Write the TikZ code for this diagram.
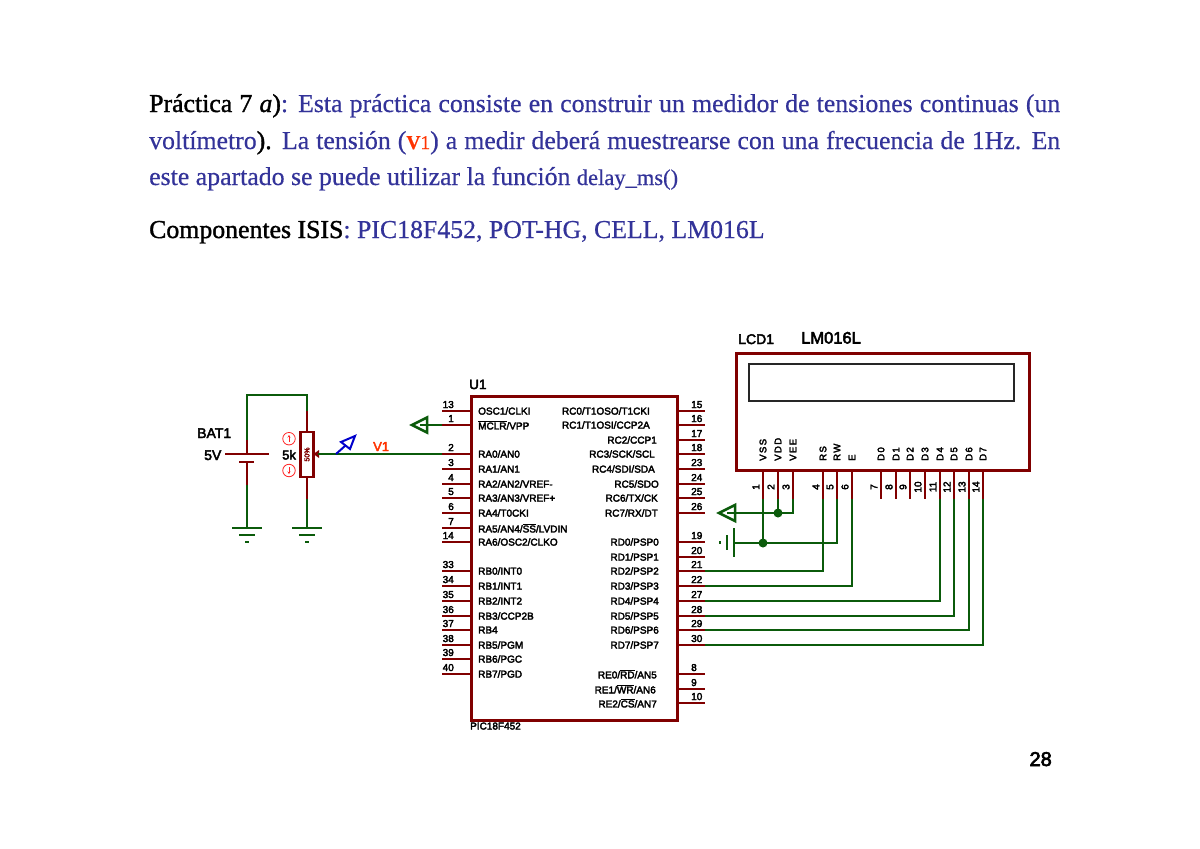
\documentclass[tikz,border=0pt]{standalone}
\usepackage{fontspec}
\usetikzlibrary{arrows.meta}
\setmainfont[FakeBold=0.5]{Liberation Serif}
\newfontfamily\blkf[FakeBold=1.4]{Liberation Serif}
\newfontfamily\blkit[FakeBold=1.4]{Liberation Serif Italic}
\newfontfamily\lblf[FakeBold=3.2]{Liberation Sans}
\newfontfamily\spcf[FakeBold=3.2,LetterSpace=14]{Liberation Sans}
\definecolor{tblue}{HTML}{333399}
\definecolor{tred}{HTML}{FF3300}
\definecolor{pinred}{HTML}{800000}
\definecolor{wiregreen}{HTML}{0B5B0B}
\definecolor{probeblue}{HTML}{0000CC}
\newcommand{\fs}[1]{\fontsize{#1}{#1}\selectfont}
\newcommand{\ob}[1]{\ensuremath{\overline{\hbox{#1}}}}
\newcommand{\bk}[1]{{\color{black}\blkf #1}}
\tikzset{
  titletext/.style={anchor=base west,inner sep=0pt,text=tblue,font=\fs{25.8}},
  pinline/.style={draw=pinred,line width=2.5pt},
  wire/.style={draw=wiregreen,line width=2.5pt},
  pinnum/.style={inner sep=0pt,font=\lblf\fs{10}},
  pinname/.style={inner sep=0pt,font=\lblf\fs{10}},
  lcdname/.style={inner sep=0pt,rotate=90,anchor=west,font=\spcf\fs{9.6}},
  caption/.style={inner sep=0pt,anchor=base west,font=\lblf\fs{14}},
  terminal/.style={draw=wiregreen,line width=2.5pt,line join=miter,fill=white},
  junction/.style={circle,fill=wiregreen,inner sep=0pt,minimum size=9pt},
  indicator/.style={circle,draw=red!85!white,line width=.8pt,inner sep=0pt,minimum size=12.5pt},
}
% left-side pin of U1: number, y, name
\newcommand{\lpin}[3]{%
  \coordinate (LE#1) at (442,#2);
  \coordinate (LI#1) at (470,#2);
  \draw[pinline] (LE#1) -- (LI#1);
  \node[pinnum,anchor=base east] (LN#1) at (454,#2-3) {#1};
  \node[pinname,anchor=west] (LT#1) at (478,#2) {#3};
}
% right-side pin of U1: number, y, name, right edge of the name
\newcommand{\rpin}[4]{%
  \coordinate (RE#1) at (705,#2);
  \coordinate (RI#1) at (676,#2);
  \draw[pinline] (RI#1) -- (RE#1);
  \node[pinnum,anchor=base west] (RN#1) at (691,#2-3) {#1};
  \node[pinname,anchor=east] (RT#1) at (#4,#2) {#3};
}
% LCD pin: number, x, name
\newcommand{\lcdpin}[3]{%
  \coordinate (DT#1) at (#2,469);
  \coordinate (DB#1) at (#2,499);
  \draw[pinline] (DT#1) -- (DB#1);
  \node[pinnum,rotate=90] (DN#1) at (#2-7,487) {#1};
  \node[lcdname] (DL#1) at (#2,461) {#3};
}
\begin{document}
\begin{tikzpicture}[x=1pt,y=-1pt]
\useasboundingbox (0,0) rectangle (1200,849);
% --- text
\node[titletext] (t1) at (149,112) {\hbox to 911pt{\bk{Práctica 7 }{\color{black}\blkit a}\bk{)}: Esta práctica consiste en construir un medidor de tensiones continuas (un}};
\node[titletext] (t2) at (149,149) {\hbox to 911pt{voltímetro\bk{).} La tensión ({\color{tred}\fs{19.5}\textbf{V}1}) a medir deberá muestrearse con una frecuencia de 1Hz. En}};
\node[titletext] (t3) at (149,185) {este apartado se puede utilizar la función {\fs{22.5}delay\_ms()}};
\node[titletext] (t4) at (149,238) {\bk{Componentes ISIS}: PIC18F452, POT-HG, CELL, LM016L};
\node[inner sep=0pt,anchor=base east,font=\lblf\fs{20}] (pg) at (1052,766) {28};

% --- battery
\coordinate (batTL) at (247,395);
\coordinate (batA) at (247,440);
\coordinate (batP) at (247,454);
\coordinate (batN) at (247,462);
\coordinate (batB) at (247,485);
\coordinate (gnd1) at (247,528);
\draw[pinline] (batA) -- (batP);
\draw[pinline] (225,454) -- (269,454);
\draw[pinline] (239,462) -- (254,462);
\draw[pinline] (batN) -- (batB);
\draw[wire] (batB) -- (gnd1);
\node[caption] (bat1) at (197,438) {BAT1};
\node[caption] (bat5) at (204,460) {5V};
% --- potentiometer
\node[draw=pinred,line width=2.5pt,fill=white,minimum width=13pt,minimum height=45pt,inner sep=0pt] (pot) at (307,454.5) {};
\node[inner sep=0pt,rotate=90,text=pinred,font=\lblf\fs{7}] (potpc) at (307,454.5) {50\%};
\coordinate (potTC) at (307,395);
\coordinate (potA) at (307,411);
\coordinate (potB) at (307,499);
\coordinate (gnd2) at (307,528);
\coordinate (wip) at (313.5,454);
\coordinate (wipE) at (318,454);
\draw[pinline] (potA) -- (pot.north);
\draw[pinline] (pot.south) -- (potB);
\draw[wire] (batA) -- (batTL) -- (potTC) -- (potA);
\draw[wire] (potB) -- (gnd2);
\fill[pinred] (wip) -- (319,450) -- (319,458) -- cycle;
\node[inner sep=0pt,anchor=base west,font=\lblf\fs{13}] (pot5k) at (282,459.5) {5k};
\node[indicator] (ind1) at (289,438.7) {};
\node[indicator] (ind2) at (289,470.5) {};
\draw[red!85!white,line width=.8pt,-{Stealth[length=2.5pt,width=3pt]}] (289,442) -- (289,435);
\draw[red!85!white,line width=.8pt,-{Stealth[length=2.5pt,width=3pt]}] (289,467) -- (289,474);
% --- grounds
\foreach \n/\g in {a/gnd1,b/gnd2}{
  \draw[wire] ([xshift=-15pt]\g) -- ([xshift=15pt]\g);
  \draw[wire] ([xshift=-8pt,yshift=-7pt]\g) -- ([xshift=8pt,yshift=-7pt]\g);
  \draw[wire] ([xshift=-2pt,yshift=-14pt]\g) -- ([xshift=2pt,yshift=-14pt]\g);
}
% --- U1
\node[draw=pinred,line width=2.5pt,anchor=north west,minimum width=206pt,minimum height=324pt,inner sep=0pt] (u1) at (470,395) {};
\node[caption,font=\lblf\fs{13.5}] (u1n) at (469,389) {U1};
\node[pinname,anchor=base west] (u1p) at (470,729.5) {PIC18F452};
\lpin{13}{411}{OSC1/CLKI}
\lpin{1}{425}{\ob{MCLR}/VPP}
\lpin{2}{454}{RA0/AN0}
\lpin{3}{469}{RA1/AN1}
\lpin{4}{484}{RA2/AN2/VREF-}
\lpin{5}{498}{RA3/AN3/VREF+}
\lpin{6}{513}{RA4/T0CKI}
\lpin{7}{528}{RA5/AN4/\ob{SS}/LVDIN}
\lpin{14}{542}{RA6/OSC2/CLKO}
\lpin{33}{571}{RB0/INT0}
\lpin{34}{586}{RB1/INT1}
\lpin{35}{601}{RB2/INT2}
\lpin{36}{616}{RB3/CCP2B}
\lpin{37}{630}{RB4}
\lpin{38}{645}{RB5/PGM}
\lpin{39}{659}{RB6/PGC}
\lpin{40}{674}{RB7/PGD}
\rpin{15}{411}{RC0/T1OSO/T1CKI}{650}
\rpin{16}{425}{RC1/T1OSI/CCP2A}{650}
\rpin{17}{440}{RC2/CCP1}{657}
\rpin{18}{454}{RC3/SCK/SCL}{655}
\rpin{23}{469}{RC4/SDI/SDA}{655}
\rpin{24}{484}{RC5/SDO}{659}
\rpin{25}{498}{RC6/TX/CK}{658}
\rpin{26}{513}{RC7/RX/DT}{658}
\rpin{19}{542}{RD0/PSP0}{659}
\rpin{20}{557}{RD1/PSP1}{659}
\rpin{21}{571}{RD2/PSP2}{659}
\rpin{22}{586}{RD3/PSP3}{659}
\rpin{27}{601}{RD4/PSP4}{659}
\rpin{28}{616}{RD5/PSP5}{659}
\rpin{29}{630}{RD6/PSP6}{659}
\rpin{30}{645}{RD7/PSP7}{659}
\rpin{8}{674}{RE0/\ob{RD}/AN5}{657}
\rpin{9}{689}{RE1/\ob{WR}/AN6}{656}
\rpin{10}{703}{RE2/\ob{CS}/AN7}{657}
% --- V1 wire and probe
\draw[wire] (wipE) -- (LE2);
\node[inner sep=0pt,anchor=base west,text=tred,font=\lblf\fs{13}] (v1) at (373,451) {V1};
\coordinate (pr0) at (336,454);
\coordinate (pr1) at (345.5,445.5);
\draw[probeblue,line width=2pt] (pr0) -- (pr1);
\draw[probeblue,line width=2pt,line join=miter] (355,436) -- (341,442) -- (350,449) -- cycle;
% --- pin 1 terminal
\coordinate (t1b) at (427,425);
\draw[wire] (t1b) -- (LE1);
\draw[terminal] (412,425) -- (427,417.5) -- (427,432.5) -- cycle;
\draw[wire] (420,425) -- (t1b);
% --- LCD
\node[draw=pinred,line width=2.5pt,anchor=north west,minimum width=293pt,minimum height=117pt,inner sep=0pt] (lcd) at (735,352) {};
\node[draw=black!85,line width=1.6pt,anchor=north west,minimum width=265pt,minimum height=37pt,inner sep=0pt] (scr) at (748,363) {};
\node[caption] (lcdn) at (738,344) {LCD1};
\node[caption,font=\lblf\fs{16.5}] (lcdt) at (801,343.5) {LM016L};
\lcdpin{1}{763}{VSS}
\lcdpin{2}{778}{VDD}
\lcdpin{3}{793}{VEE}
\lcdpin{4}{823}{RS}
\lcdpin{5}{837}{RW}
\lcdpin{6}{852}{E}
\lcdpin{7}{881}{D0}
\lcdpin{8}{896}{D1}
\lcdpin{9}{910}{D2}
\lcdpin{10}{925}{D3}
\lcdpin{11}{940}{D4}
\lcdpin{12}{954}{D5}
\lcdpin{13}{969}{D6}
\lcdpin{14}{983}{D7}
% --- LCD wiring
\coordinate (j1) at (778,513);
\coordinate (j2) at (763,543);
\coordinate (k3) at (793,513);
\coordinate (k5) at (837,543);
\coordinate (t2b) at (735,513);
\coordinate (g3) at (734,543);
\draw[wire] (DB1) -- (j2);
\draw[wire] (DB2) -- (j1);
\draw[wire] (DB3) -- (k3) -- (t2b);
\draw[wire] (DB5) -- (k5) -- (g3);
\draw[terminal] (719,513) -- (735,505) -- (735,521) -- cycle;
\draw[wire] (727,513) -- (t2b);
\node[junction] (jd1) at (j1) {};
\node[junction] (jd2) at (j2) {};
\draw[wire] (734,528) -- (734,557);
\draw[wire] (727,535) -- (727,550);
\draw[wire] (720,541) -- (720,544);
\draw[wire] (DB4) |- (RE21);
\draw[wire] (DB6) |- (RE22);
\draw[wire] (DB11) |- (RE27);
\draw[wire] (DB12) |- (RE28);
\draw[wire] (DB13) |- (RE29);
\draw[wire] (DB14) |- (RE30);
\end{tikzpicture}
\end{document}
